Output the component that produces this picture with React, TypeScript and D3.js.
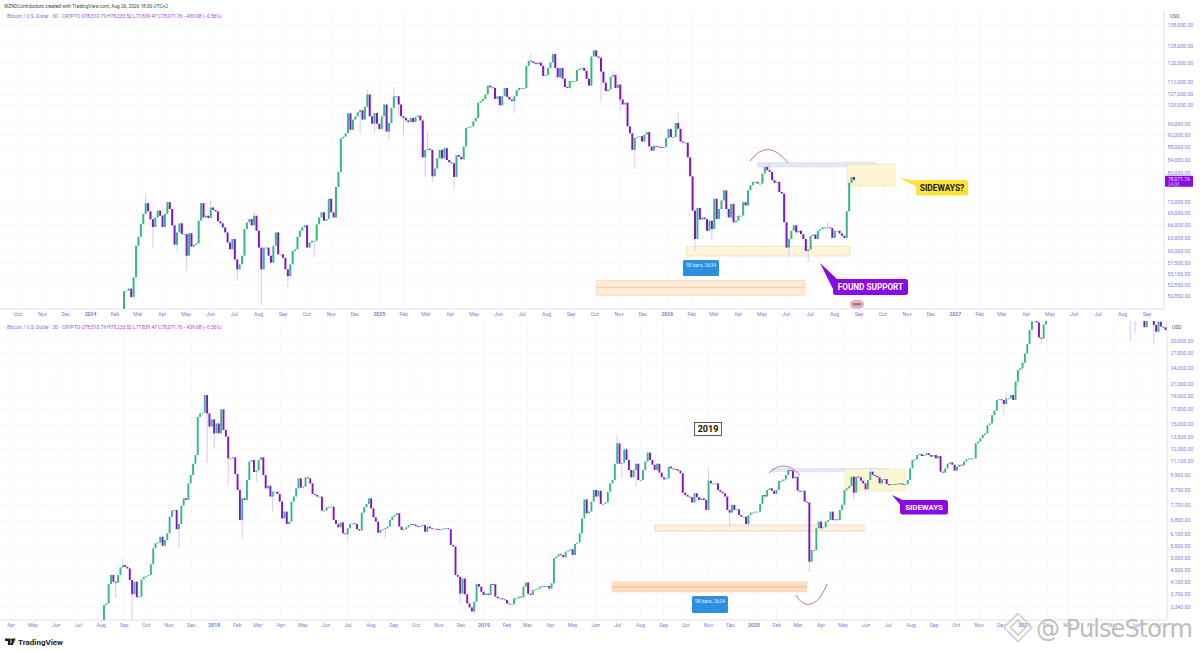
import React, { useEffect, useRef } from 'react';
import * as d3 from 'd3';

// top pane, BTCUSD 3D, closes
const topFirstOpen = 47500;
const topCloses = [
  51750, 51880, 52270, 50650, 54500, 61200, 63280, 66320, 68840, 71630, 69500, 67500, 65600, 67950, 69700, 68400,
  65600, 68850, 71900, 70100, 66000, 61450, 64300, 66500, 63900, 63900, 59000, 64100, 61000, 61450, 61750, 67150,
  71650, 67950, 68400, 67800, 70500, 69850, 69500, 67000, 66500, 65500, 64300, 61950, 60400, 62750, 58200, 56100,
  57150, 59000, 65100, 66750, 67550, 66000, 68400, 64700, 60800, 56100, 60800, 60800, 59000, 57500, 61200, 64300,
  59300, 59300, 58550, 56100, 54700, 57150, 60050, 60400, 63300, 64700, 65500, 66000, 60800, 61950, 62350, 62350,
  66250, 67950, 69250, 67150, 67550, 72800, 69250, 67950, 76030, 80400, 91000, 91550, 92700, 99800, 93900, 97500,
  98700, 100200, 100950, 97500, 102200, 107000, 98700, 96050, 99950, 96050, 94150, 98700, 103100, 93300, 96300, 101800,
  106300, 106300, 103100,
  98700, 98100, 97200, 96600, 98100, 96600, 98450, 98950, 97200, 84800, 87200, 87550, 87200, 79100, 81400, 84500,
  87200, 84500, 87750, 84000, 83300, 83000, 78900, 85550, 85000, 84200, 88300, 94500, 94850, 95100, 96900, 98100,
  103800, 104400, 105250, 107000, 110500, 109850, 109600, 105250, 106300, 102750, 106300, 109600, 106050, 105000, 104400, 106300,
  108700, 109600, 109600, 109600, 118900, 121150, 120850, 120100, 119650, 120400, 118900, 114600, 115000, 118000, 120400, 124200,
  118000, 114000, 118000, 113450, 110000, 109600, 112400, 112400, 112400, 117100, 117700, 118000, 116700, 113350, 110500, 123100,
  125900, 123100, 122500, 116400, 111700, 108300, 109000, 114300, 115000, 109600, 111000, 105000, 103100, 103800, 95100, 92700,
  87200, 91100, 91450, 91700, 89900, 92250, 93100, 88300, 86950, 88500, 88300, 88100, 88000, 88100, 91100, 94150,
  91450, 91450, 96300, 94250, 89900, 89550, 89550, 84800, 79100, 69700, 62750, 70400, 67400, 67950, 67550, 64700,
  67150, 65100, 72800, 67550, 70100, 72350, 75100, 70100, 67950, 71450, 66750, 67150, 68400, 68400, 71900, 71000,
  75100, 76500, 77500, 77500, 77000, 77000, 79900, 81900, 80900, 80400, 77970, 77200, 77500, 74650, 74200, 66750,
  60800, 62750, 64700, 66000, 64300, 64700,
  63900, 62750, 60050, 60400, 63500, 63800, 62750, 64700, 65100, 65500, 65500, 65500, 65350, 63000, 64700, 64700,
  64050, 63500, 63000, 69500, 77200, 78900, 78071,
];
const topLowWicks = [
  [12, 60800], [22, 60050], [26, 55900], [47, 53850], [57, 49100], [68, 52500], [79, 58650], [98, 92700], [104, 92700],
  [110, 89900], [114, 98700], [116, 92250], [125, 78900], [128, 77500], [137, 75100], [162, 99950], [198, 104400],
  [206, 100700], [212, 81400], [237, 60050], [244, 62500], [276, 58650], [284, 57700],
];
const topHighWicks = [
  [9, 74200], [36, 72350], [54, 69500], [101, 109000], [112, 110000], [126, 93300], [169, 124800], [203, 116700],
  [230, 99950], [268, 83300], [292, 66750],
];
const topTicks = [138000, 128000, 120000, 112000, 107000, 103000, 96000, 92000, 88000, 84000, 80000, 72000, 69000, 66000, 63000, 60000, 57500, 55150, 52850, 50850];

// bottom pane, same symbol 2017-2021
const bottomFirstOpen = 2990;
const bottomCloses = [
  3385, 3430, 4030, 4340, 4105, 4070, 4340, 4620, 4710, 4640, 4580, 4160, 3705, 4105, 3610, 3630,
  4185, 4275, 4300, 4340, 4740, 5410, 5640, 5670, 5950, 5520, 5790, 6120, 7020, 7380, 7420, 6330,
  6610, 7690, 8170, 8060, 9240, 9900, 10870, 11680, 16000, 16470, 16560, 19160, 16470, 14770, 15670, 13960,
  15160, 13960, 17020, 14360, 13600, 11360, 11360, 11460, 9980, 8750, 6830, 8170, 8060, 9500, 11060, 11210,
  10150, 10260, 11210, 11460, 9900, 8870, 9060, 8290, 8630, 8630, 8470, 7950, 6920, 7320, 6610, 6740,
  7950, 8290, 8870, 9630, 8920, 8990, 9710, 9630, 9240, 8470, 8400, 8290, 8290, 7380, 7380, 7590,
  7630, 7630, 6830, 6610, 6430, 6700, 6120, 6070, 6380, 6610, 6650, 6610, 6330, 6260, 7260, 7590,
  7800, 8170, 7520, 6980, 6740, 6150, 6290, 6330, 6380, 6470, 6830, 7020, 7120, 7220, 6470, 6290,
  6330, 6430, 6550, 6610, 6570, 6500, 6470, 6500, 6550, 6200, 6470, 6380, 6360, 6360, 6330, 6290,
  6330, 6380, 6380, 6330, 5560, 5490, 4340, 4275, 3720, 4215, 3700, 3430, 3320, 3210, 3480, 4030,
  3940, 3780, 3680, 3720, 3680, 4030, 4020, 3630, 3580, 3580, 3550, 3530, 3430, 3410, 3410, 3580,
  3580, 3630, 3610, 3940, 4080, 3720, 3680, 3830, 3850, 3880, 3940, 3960, 3960, 3960, 3880, 4050,
  4980, 5050, 5150, 5120, 5020, 5260, 5300, 5360, 5120, 5610, 5670, 6120, 6920, 8100, 7220, 7320,
  7950, 8750, 8290, 8700, 7800, 7800, 7890, 8630, 9240, 9500, 10870, 12870, 10870, 10930, 12240, 11210,
  10320, 9710, 10320, 10870, 9500, 9500, 10320, 11060, 11910, 11210, 10780, 10320, 10870, 10100, 9710, 9550,
  9630, 10610, 10460, 10400, 10370, 10260, 10040, 8560, 8400, 8290, 8250, 7890, 8520, 8250, 8060, 8170,
  8060, 7420, 9450, 9240, 9240, 9240, 8750, 8630, 8520, 8290, 7420, 7260, 7740, 7420, 7460, 7120,
  7020, 7020, 6610, 7120, 7260, 7260, 7320, 7320, 7800, 8400, 8290, 8750, 8870, 8700, 8470, 8750,
  9420, 9420, 9550, 9900, 10320, 10260, 9630, 9770, 8700, 8630, 8700, 7950,
  7890, 4840, 5330, 5330, 6380, 6740, 6380, 6430, 6740, 6830, 7320, 6830, 6870, 6830, 7420, 7740,
  8750, 8870, 9040, 9770, 8560, 9770, 9710, 9450, 9240, 8800, 9500, 10180, 9900, 9820, 9710, 9240,
  9550, 9580, 9190, 9110, 9170, 9190, 9190, 9240, 9220, 9170, 9190, 9500, 10460, 11210, 11270, 11680,
  11780, 11580, 11680, 11850, 11680, 11520, 11680, 11360, 11580, 10180, 10100, 10460, 10870, 10990, 10780, 10260,
  10610, 10780, 10720, 11060, 11270, 11360, 11360, 11360, 12870, 13050, 13420, 13800, 13960, 14950, 15160, 16230,
  16830, 18390, 18500, 18390, 17790, 18640, 18640, 19160, 18390, 21390, 23550, 23880, 25000, 27000, 29200, 32760,
  35200, 36000, 34900, 30800, 30500, 34300, 37000,
];
const bottomLowWicks = [
  [5, 3580], [12, 2990], [32, 5490], [44, 10930], [47, 12360], [53, 9110], [59, 5870], [65, 9370], [72, 7320], [104, 5760],
  [120, 5870], [152, 3430], [158, 3150], [221, 9630], [227, 8990], [267, 6500], [275, 6470], [301, 4420], [320, 8060],
  [384, 16230], [390, 20540], [392, 23550], [400, 29200],
];
const bottomHighWicks = [[8, 4980], [219, 13800], [258, 10460], [327, 10460], [385, 19600]];
const bottomTicks = [30000, 27000, 24000, 21000, 19000, 17000, 15000, 13500, 12300, 11100, 9900, 8750, 7700, 6800, 6100, 5500, 5000, 4500, 4100, 3700, 3340];

// bars that come back into the pane after the run above it
const lateStartBar = 438;
const lateCloses = [36500, 36000, 36500, 37000, 36000, 36500, 33500, 36000, 36500, 36000, 34150, 32300, 35100, 33700, 33500, 32760, 33700, 32760];
const lateLowWicks = [[0, 30000], [2, 31900], [10, 29000]];

const upColor = '#34b788';
const downColor = '#7d14c8';
const wickColor = '#dcc8f0';
const axisTextColor = '#7c80de';
const gridColor = '#f8f8fc';
const lineColor = '#dfe0f6';
const legendText = 'O78,510.79  H78,233.52  L77,839.47  C78,071.76  \u2212439.08 (\u22120.56%)';

const topTime = d3.scaleUtc().domain([new Date(Date.UTC(2023, 9, 1)), new Date(Date.UTC(2027, 8, 1))]).range([18, 1147]);
const bottomTime = d3.scaleUtc().domain([new Date(Date.UTC(2017, 3, 1)), new Date(Date.UTC(2021, 6, 1))]).range([11, 1158]);
const topBar = d3.scaleLinear().domain([0, topCloses.length - 1]).range([124, 854]);
const bottomBar = d3.scaleLinear().domain([0, bottomCloses.length - 1]).range([104, 1046]);
const topY = d3.scaleLog().domain([138000, 50850]).range([25.5, 296]);
const bottomY = d3.scaleLog().domain([30000, 3340]).range([340.7, 606.7]);

function drawCandles(g: any, closes: number[], firstOpen: number, x: any, y: any, offset: number, w: number) {
  const bars = closes.map((c, i) => ({ i: i + offset, open: i === 0 ? firstOpen : closes[i - 1], close: c }));
  g.selectAll(null)
    .data(bars)
    .enter()
    .append('rect')
    .attr('x', (d: any) => x(d.i) - w / 2)
    .attr('y', (d: any) => Math.min(y(d.open), y(d.close)))
    .attr('width', w)
    .attr('height', (d: any) => Math.max(0.9, Math.abs(y(d.open) - y(d.close))))
    .attr('fill', (d: any) => (d.close >= d.open ? upColor : downColor));
}

function drawWicks(g: any, wicks: number[][], closes: number[], firstOpen: number, x: any, y: any, offset: number) {
  g.selectAll(null)
    .data(wicks)
    .enter()
    .append('line')
    .attr('x1', (d: number[]) => x(d[0] + offset))
    .attr('x2', (d: number[]) => x(d[0] + offset))
    .attr('y1', (d: number[]) => y(d[1]))
    .attr('y2', (d: number[]) => y(closes[d[0]] ?? firstOpen))
    .attr('stroke', wickColor)
    .attr('stroke-width', 1);
}

function drawAxes(g: any, time: any, y: any, ticks: number[], left: number, right: number, top: number, bottom: number) {
  const months = time.ticks(d3.utcMonth);
  g.selectAll(null).data(months).enter().append('line')
    .attr('x1', (d: Date) => time(d)).attr('x2', (d: Date) => time(d))
    .attr('y1', top).attr('y2', bottom)
    .attr('stroke', gridColor);
  g.selectAll(null).data(ticks).enter().append('line')
    .attr('x1', left).attr('x2', right)
    .attr('y1', (d: number) => y(d)).attr('y2', (d: number) => y(d))
    .attr('stroke', gridColor);

  g.append('line').attr('x1', left).attr('x2', right).attr('y1', bottom).attr('y2', bottom).attr('stroke', lineColor);
  g.append('line').attr('x1', right).attr('x2', right).attr('y1', top).attr('y2', bottom).attr('stroke', lineColor);

  // month labels, the year replaces January
  g.selectAll(null).data(months).enter().append('text')
    .attr('x', (d: Date) => time(d))
    .attr('y', bottom + 7)
    .attr('text-anchor', 'middle')
    .attr('font-size', 5.2)
    .attr('font-weight', (d: Date) => (d.getUTCMonth() === 0 ? 700 : 400))
    .attr('fill', axisTextColor)
    .text((d: Date) => (d.getUTCMonth() === 0 ? d3.utcFormat('%Y')(d) : d3.utcFormat('%b')(d)));

  g.selectAll(null).data(ticks).enter().append('text')
    .attr('x', right + 3.5)
    .attr('y', (d: number) => y(d) + 1.8)
    .attr('font-size', 5.2)
    .attr('fill', axisTextColor)
    .text((d: number) => d3.format(',.2f')(d));
}

const Header = ({ y }: { y: number }) => (
  <text x={7} y={y} fontSize={4.85}>
    <tspan fill="#6f6fe0">Bitcoin / U.S. Dollar · 3D · CRYPTO  </tspan>
    <tspan fill="#a63fe0">{legendText}</tspan>
  </text>
);

export default function App() {
  const topRef = useRef<SVGGElement>(null);
  const bottomRef = useRef<SVGGElement>(null);

  useEffect(() => {
    if (!topRef.current || !bottomRef.current) return;
    const top = d3.select(topRef.current);
    top.selectAll('*').remove();
    const bottom = d3.select(bottomRef.current);
    bottom.selectAll('*').remove();

    const topCandles = top.append('g').attr('clip-path', 'url(#clipTop)').append('g').attr('filter', 'url(#soft)');
    drawWicks(topCandles, topLowWicks, topCloses, topFirstOpen, topBar, topY, 0);
    drawWicks(topCandles, topHighWicks, topCloses, topFirstOpen, topBar, topY, 0);
    drawCandles(topCandles, topCloses, topFirstOpen, topBar, topY, 0, 2);

    const bottomCandles = bottom.append('g').attr('clip-path', 'url(#clipBottom)').append('g').attr('filter', 'url(#soft)');
    drawWicks(bottomCandles, bottomLowWicks, bottomCloses, bottomFirstOpen, bottomBar, bottomY, 0);
    drawWicks(bottomCandles, bottomHighWicks, bottomCloses, bottomFirstOpen, bottomBar, bottomY, 0);
    drawCandles(bottomCandles, bottomCloses, bottomFirstOpen, bottomBar, bottomY, 0, 1.9);
    drawWicks(bottomCandles, lateLowWicks, lateCloses, 36500, bottomBar, bottomY, lateStartBar);
    drawCandles(bottomCandles, lateCloses, 36500, bottomBar, bottomY, lateStartBar, 1.9);
  }, []);

  return (
    <svg
      width={1200}
      height={653}
      viewBox="0 0 1200 653"
      fontFamily="Roboto, sans-serif"
      style={{ position: 'absolute', left: 0, top: 0, display: 'block', background: '#fff' }}
    >
      <defs>
        <clipPath id="clipTop"><rect x={0} y={10} width={1164} height={299} /></clipPath>
        <clipPath id="clipBottom"><rect x={0} y={321} width={1167} height={299} /></clipPath>
        <filter id="soft" x="0" y="0" width="1" height="1" filterUnits="objectBoundingBox">
          <feGaussianBlur stdDeviation="0.3" />
        </filter>
      </defs>

      <g ref={(el) => {
        if (!el) return;
        const g = d3.select(el);
        g.selectAll('*').remove();
        drawAxes(g, topTime, topY, topTicks, 0, 1164, 10, 309);
        drawAxes(g, bottomTime, bottomY, bottomTicks, 0, 1167, 321, 620);
      }} />

      <text x={4} y={7.5} fontSize={4.8} fill="#444">WZRDContributors created with TradingView.com, Aug 26, 2026 18:06 UTC+2</text>
      <Header y={17.5} />
      <Header y={328.5} />
      <text x={1170} y={18} fontSize={5} fill="#555">USD</text>
      <text x={1172} y={329} fontSize={5} fill="#555">USD</text>

      {/* zones under the candles */}
      <rect x={686.5} y={246.5} width={163.5} height={9.5} fill="#fff5dc" stroke="#f5dca6" strokeWidth={0.7} />
      <rect x={596.5} y={280.5} width={208.5} height={15} fill="#fdebd8" stroke="#f9d9b8" strokeWidth={0.7} />
      <line x1={596.5} x2={805} y1={287.5} y2={287.5} stroke="#f5b88a" strokeWidth={0.6} />
      <rect x={757} y={162} width={90} height={5.5} fill="#e5e5fa" />
      <rect x={847} y={164} width={48} height={22} fill="#fdf6d2" stroke="#f0cc70" strokeWidth={0.6} strokeDasharray="1 1" />
      <rect x={847} y={162} width={28} height={2.5} fill="#f0ecf2" stroke="#e6b8a0" strokeWidth={0.5} strokeDasharray="1 1" />

      <rect x={655} y={525} width={209} height={6} fill="#fdf1e5" stroke="#f2c2ae" strokeWidth={0.7} />
      <rect x={612} y={582} width={195} height={10} fill="#fcdfc0" stroke="#f9d0a8" strokeWidth={0.5} />
      <line x1={612} x2={807} y1={587} y2={587} stroke="#f0a070" strokeWidth={0.6} />
      <rect x={771} y={468} width={119} height={4} fill="#e5e5fa" />
      <rect x={845} y={469} width={60} height={22} fill="#fdf6d2" stroke="#f0cc70" strokeWidth={0.5} strokeDasharray="1 1" />

      <g ref={topRef} />
      <g ref={bottomRef} />

      {/* top pane notes */}
      <path d="M750,161 Q768,137 788,163" fill="none" stroke="#b8566a" strokeWidth={0.8} />
      <rect x={683} y={260} width={36} height={16} rx={1.5} fill="#2d8fe2" />
      <text x={701} y={266.5} fontSize={5} fill="#dff0ff" textAnchor="middle">58 bars, 2634</text>

      <path d="M899,178 L920,181 L920,188 Z" fill="#fbe33a" />
      <rect x={916} y={180} width={52} height={15.5} rx={2.5} fill="#fbe33a" />
      <text x={942} y={190.8} fontSize={8.4} fontWeight={700} fill="#1b1b1b" textAnchor="middle">SIDEWAYS?</text>

      <path d="M820,263 L838,280 L833,289 Z" fill="#8a0ae6" />
      <rect x={833} y={279} width={75} height={16} rx={2.5} fill="#8a0ae6" />
      <text x={870.5} y={290} fontSize={8.2} fontWeight={700} fill="#fff" textAnchor="middle">FOUND SUPPORT</text>

      <rect x={850.5} y={300.5} width={13} height={7.5} rx={3.7} fill="#f3b3bd" stroke="#dd7c8c" strokeWidth={0.5} />
      <rect x={853} y={303} width={8} height={2.5} fill="#8d8090" />

      <rect x={1165} y={175.7} width={28} height={11} rx={0.8} fill="#8a0ae0" />
      <text x={1168} y={180.6} fontSize={5} fill="#f2e2ff">78,071.76</text>
      <text x={1168} y={185.6} fontSize={4.6} fill="#d9b8f5">24:00</text>

      {/* bottom pane notes */}
      <rect x={694.5} y={422.5} width={27} height={13} fill="#fffde2" stroke="#3f438f" strokeWidth={0.9} />
      <text x={708} y={432.4} fontSize={9} fontWeight={700} fill="#111" textAnchor="middle">2019</text>
      <path d="M769,473 Q784,458 800,475" fill="none" stroke="#b8566a" strokeWidth={0.8} />
      <path d="M796,595 C803,608 817,610 827,584" fill="none" stroke="#b8566a" strokeWidth={0.8} />
      <rect x={692} y={596} width={36} height={17} rx={1.5} fill="#2d8fe2" />
      <text x={710} y={602.5} fontSize={5} fill="#dff0ff" textAnchor="middle">98 bars, 2634</text>

      <path d="M892,495 L905,501 L902,507 Z" fill="#8a0ae6" />
      <rect x={900} y={500} width={48} height={14.5} rx={2.5} fill="#8a0ae6" />
      <text x={924} y={510.4} fontSize={7.8} fontWeight={700} fill="#fff" textAnchor="middle">SIDEWAYS</text>

      {/* logo and watermark */}
      <g fill="#1c1c1c">
        <path d="M5,638.5 h5.5 v6.5 h-2.6 v-4 h-2.9 Z" />
        <circle cx={12} cy={639.8} r={1.2} />
        <path d="M13,638.5 h2.6 l-2.8,6.5 h-2.6 Z" />
      </g>
      <text x={18} y={645} fontSize={8} fontWeight={700} fill="#222">TradingView</text>

      <g fill="none" stroke="#c4c4c4" strokeWidth={1.6} opacity={0.8}>
        <path d="M1018,613.5 L1032,627.5 L1018,641.5 L1004,627.5 Z" />
        <path d="M1018,620 L1025.5,627.5 L1018,635 L1010.5,627.5 Z" />
      </g>
      <text
        x={1036}
        y={637}
        fontSize={24}
        fontFamily="'DejaVu Sans', sans-serif"
        fill="#bdbdbd"
        stroke="#fff"
        strokeWidth={0.7}
        paintOrder="stroke"
        textLength={157}
        lengthAdjust="spacing"
      >
        @ PulseStorm
      </text>
    </svg>
  );
}
